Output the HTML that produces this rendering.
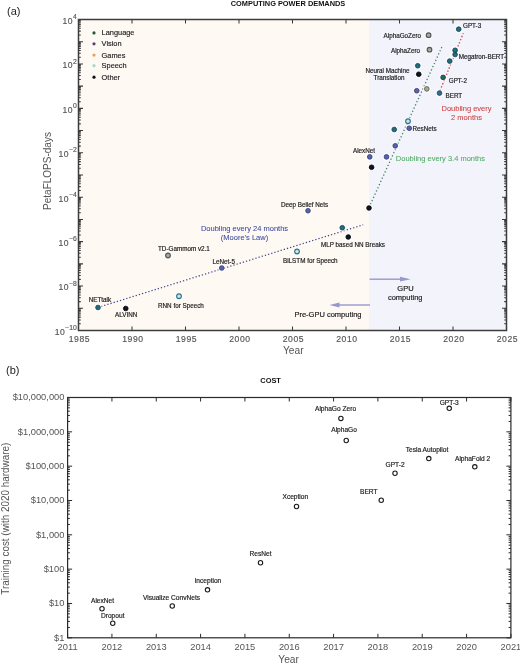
<!DOCTYPE html><html><head><meta charset="utf-8"><title>Computing power demands and cost</title>
<style>html,body{margin:0;padding:0;background:#fff;}svg{display:block;}text{font-family:"Liberation Sans", Arial, sans-serif;}</style></head><body>
<svg width="520" height="664" viewBox="0 0 520 664">
<text x="7" y="15" font-size="11" fill="#222">(a)</text>
<text x="288" y="6.2" font-size="7.4" font-weight="bold" fill="#111" text-anchor="middle">COMPUTING POWER DEMANDS</text>
<rect x="78.50" y="19.50" width="290.50" height="311.00" fill="#fff9f4"/>
<rect x="369.00" y="19.50" width="137.50" height="311.00" fill="#f3f3fc"/>
<path d="M78.50 330.50v-4M78.50 19.50v4M132.00 330.50v-4M132.00 19.50v4M185.50 330.50v-4M185.50 19.50v4M239.00 330.50v-4M239.00 19.50v4M292.50 330.50v-4M292.50 19.50v4M346.00 330.50v-4M346.00 19.50v4M399.50 330.50v-4M399.50 19.50v4M453.00 330.50v-4M453.00 19.50v4M506.50 330.50v-4M506.50 19.50v4M78.50 330.50h4.5M506.50 330.50h-4.5M78.50 323.81h2.3M506.50 323.81h-2.3M78.50 319.90h2.3M506.50 319.90h-2.3M78.50 317.13h2.3M506.50 317.13h-2.3M78.50 314.97h2.3M506.50 314.97h-2.3M78.50 313.21h2.3M506.50 313.21h-2.3M78.50 311.73h2.3M506.50 311.73h-2.3M78.50 310.44h2.3M506.50 310.44h-2.3M78.50 309.30h2.3M506.50 309.30h-2.3M78.50 308.29h4.5M506.50 308.29h-4.5M78.50 301.60h2.3M506.50 301.60h-2.3M78.50 297.69h2.3M506.50 297.69h-2.3M78.50 294.91h2.3M506.50 294.91h-2.3M78.50 292.76h2.3M506.50 292.76h-2.3M78.50 291.00h2.3M506.50 291.00h-2.3M78.50 289.51h2.3M506.50 289.51h-2.3M78.50 288.22h2.3M506.50 288.22h-2.3M78.50 287.09h2.3M506.50 287.09h-2.3M78.50 286.07h4.5M506.50 286.07h-4.5M78.50 279.38h2.3M506.50 279.38h-2.3M78.50 275.47h2.3M506.50 275.47h-2.3M78.50 272.70h2.3M506.50 272.70h-2.3M78.50 270.54h2.3M506.50 270.54h-2.3M78.50 268.79h2.3M506.50 268.79h-2.3M78.50 267.30h2.3M506.50 267.30h-2.3M78.50 266.01h2.3M506.50 266.01h-2.3M78.50 264.87h2.3M506.50 264.87h-2.3M78.50 263.86h4.5M506.50 263.86h-4.5M78.50 257.17h2.3M506.50 257.17h-2.3M78.50 253.26h2.3M506.50 253.26h-2.3M78.50 250.48h2.3M506.50 250.48h-2.3M78.50 248.33h2.3M506.50 248.33h-2.3M78.50 246.57h2.3M506.50 246.57h-2.3M78.50 245.08h2.3M506.50 245.08h-2.3M78.50 243.80h2.3M506.50 243.80h-2.3M78.50 242.66h2.3M506.50 242.66h-2.3M78.50 241.64h4.5M506.50 241.64h-4.5M78.50 234.96h2.3M506.50 234.96h-2.3M78.50 231.04h2.3M506.50 231.04h-2.3M78.50 228.27h2.3M506.50 228.27h-2.3M78.50 226.12h2.3M506.50 226.12h-2.3M78.50 224.36h2.3M506.50 224.36h-2.3M78.50 222.87h2.3M506.50 222.87h-2.3M78.50 221.58h2.3M506.50 221.58h-2.3M78.50 220.45h2.3M506.50 220.45h-2.3M78.50 219.43h4.5M506.50 219.43h-4.5M78.50 212.74h2.3M506.50 212.74h-2.3M78.50 208.83h2.3M506.50 208.83h-2.3M78.50 206.05h2.3M506.50 206.05h-2.3M78.50 203.90h2.3M506.50 203.90h-2.3M78.50 202.14h2.3M506.50 202.14h-2.3M78.50 200.66h2.3M506.50 200.66h-2.3M78.50 199.37h2.3M506.50 199.37h-2.3M78.50 198.23h2.3M506.50 198.23h-2.3M78.50 197.21h4.5M506.50 197.21h-4.5M78.50 190.53h2.3M506.50 190.53h-2.3M78.50 186.62h2.3M506.50 186.62h-2.3M78.50 183.84h2.3M506.50 183.84h-2.3M78.50 181.69h2.3M506.50 181.69h-2.3M78.50 179.93h2.3M506.50 179.93h-2.3M78.50 178.44h2.3M506.50 178.44h-2.3M78.50 177.15h2.3M506.50 177.15h-2.3M78.50 176.02h2.3M506.50 176.02h-2.3M78.50 175.00h4.5M506.50 175.00h-4.5M78.50 168.31h2.3M506.50 168.31h-2.3M78.50 164.40h2.3M506.50 164.40h-2.3M78.50 161.63h2.3M506.50 161.63h-2.3M78.50 159.47h2.3M506.50 159.47h-2.3M78.50 157.71h2.3M506.50 157.71h-2.3M78.50 156.23h2.3M506.50 156.23h-2.3M78.50 154.94h2.3M506.50 154.94h-2.3M78.50 153.80h2.3M506.50 153.80h-2.3M78.50 152.79h4.5M506.50 152.79h-4.5M78.50 146.10h2.3M506.50 146.10h-2.3M78.50 142.19h2.3M506.50 142.19h-2.3M78.50 139.41h2.3M506.50 139.41h-2.3M78.50 137.26h2.3M506.50 137.26h-2.3M78.50 135.50h2.3M506.50 135.50h-2.3M78.50 134.01h2.3M506.50 134.01h-2.3M78.50 132.72h2.3M506.50 132.72h-2.3M78.50 131.59h2.3M506.50 131.59h-2.3M78.50 130.57h4.5M506.50 130.57h-4.5M78.50 123.88h2.3M506.50 123.88h-2.3M78.50 119.97h2.3M506.50 119.97h-2.3M78.50 117.20h2.3M506.50 117.20h-2.3M78.50 115.04h2.3M506.50 115.04h-2.3M78.50 113.29h2.3M506.50 113.29h-2.3M78.50 111.80h2.3M506.50 111.80h-2.3M78.50 110.51h2.3M506.50 110.51h-2.3M78.50 109.37h2.3M506.50 109.37h-2.3M78.50 108.36h4.5M506.50 108.36h-4.5M78.50 101.67h2.3M506.50 101.67h-2.3M78.50 97.76h2.3M506.50 97.76h-2.3M78.50 94.98h2.3M506.50 94.98h-2.3M78.50 92.83h2.3M506.50 92.83h-2.3M78.50 91.07h2.3M506.50 91.07h-2.3M78.50 89.58h2.3M506.50 89.58h-2.3M78.50 88.30h2.3M506.50 88.30h-2.3M78.50 87.16h2.3M506.50 87.16h-2.3M78.50 86.14h4.5M506.50 86.14h-4.5M78.50 79.46h2.3M506.50 79.46h-2.3M78.50 75.54h2.3M506.50 75.54h-2.3M78.50 72.77h2.3M506.50 72.77h-2.3M78.50 70.62h2.3M506.50 70.62h-2.3M78.50 68.86h2.3M506.50 68.86h-2.3M78.50 67.37h2.3M506.50 67.37h-2.3M78.50 66.08h2.3M506.50 66.08h-2.3M78.50 64.95h2.3M506.50 64.95h-2.3M78.50 63.93h4.5M506.50 63.93h-4.5M78.50 57.24h2.3M506.50 57.24h-2.3M78.50 53.33h2.3M506.50 53.33h-2.3M78.50 50.55h2.3M506.50 50.55h-2.3M78.50 48.40h2.3M506.50 48.40h-2.3M78.50 46.64h2.3M506.50 46.64h-2.3M78.50 45.16h2.3M506.50 45.16h-2.3M78.50 43.87h2.3M506.50 43.87h-2.3M78.50 42.73h2.3M506.50 42.73h-2.3M78.50 41.71h4.5M506.50 41.71h-4.5M78.50 35.03h2.3M506.50 35.03h-2.3M78.50 31.12h2.3M506.50 31.12h-2.3M78.50 28.34h2.3M506.50 28.34h-2.3M78.50 26.19h2.3M506.50 26.19h-2.3M78.50 24.43h2.3M506.50 24.43h-2.3M78.50 22.94h2.3M506.50 22.94h-2.3M78.50 21.65h2.3M506.50 21.65h-2.3M78.50 20.52h2.3M506.50 20.52h-2.3M78.50 19.50h4.5M506.50 19.50h-4.5" stroke="#3a3a3a" stroke-width="1.05" fill="none"/>
<rect x="78.50" y="19.50" width="428.00" height="311.00" fill="none" stroke="#3c3c3c" stroke-width="1.5"/>
<text x="79.50" y="342" font-family='Liberation Mono, DejaVu Sans Mono, monospace' font-size="8.6" letter-spacing="0.6" fill="#555" stroke="#555" stroke-width="0.15" text-anchor="middle">1985</text>
<text x="133.00" y="342" font-family='Liberation Mono, DejaVu Sans Mono, monospace' font-size="8.6" letter-spacing="0.6" fill="#555" stroke="#555" stroke-width="0.15" text-anchor="middle">1990</text>
<text x="186.50" y="342" font-family='Liberation Mono, DejaVu Sans Mono, monospace' font-size="8.6" letter-spacing="0.6" fill="#555" stroke="#555" stroke-width="0.15" text-anchor="middle">1995</text>
<text x="240.00" y="342" font-family='Liberation Mono, DejaVu Sans Mono, monospace' font-size="8.6" letter-spacing="0.6" fill="#555" stroke="#555" stroke-width="0.15" text-anchor="middle">2000</text>
<text x="293.50" y="342" font-family='Liberation Mono, DejaVu Sans Mono, monospace' font-size="8.6" letter-spacing="0.6" fill="#555" stroke="#555" stroke-width="0.15" text-anchor="middle">2005</text>
<text x="347.00" y="342" font-family='Liberation Mono, DejaVu Sans Mono, monospace' font-size="8.6" letter-spacing="0.6" fill="#555" stroke="#555" stroke-width="0.15" text-anchor="middle">2010</text>
<text x="400.50" y="342" font-family='Liberation Mono, DejaVu Sans Mono, monospace' font-size="8.6" letter-spacing="0.6" fill="#555" stroke="#555" stroke-width="0.15" text-anchor="middle">2015</text>
<text x="454.00" y="342" font-family='Liberation Mono, DejaVu Sans Mono, monospace' font-size="8.6" letter-spacing="0.6" fill="#555" stroke="#555" stroke-width="0.15" text-anchor="middle">2020</text>
<text x="507.50" y="342" font-family='Liberation Mono, DejaVu Sans Mono, monospace' font-size="8.6" letter-spacing="0.6" fill="#555" stroke="#555" stroke-width="0.15" text-anchor="middle">2025</text>
<text x="76.9" y="23.80" font-family='Liberation Mono, DejaVu Sans Mono, monospace' fill="#555" stroke="#555" stroke-width="0.15" text-anchor="end"><tspan font-size="8.6" letter-spacing="0.5">10</tspan><tspan font-size="6.8" dx="0" dy="-4.6">4</tspan></text>
<text x="76.9" y="68.23" font-family='Liberation Mono, DejaVu Sans Mono, monospace' fill="#555" stroke="#555" stroke-width="0.15" text-anchor="end"><tspan font-size="8.6" letter-spacing="0.5">10</tspan><tspan font-size="6.8" dx="0" dy="-4.6">2</tspan></text>
<text x="76.9" y="112.66" font-family='Liberation Mono, DejaVu Sans Mono, monospace' fill="#555" stroke="#555" stroke-width="0.15" text-anchor="end"><tspan font-size="8.6" letter-spacing="0.5">10</tspan><tspan font-size="6.8" dx="0" dy="-4.6">0</tspan></text>
<text x="76.9" y="157.09" font-family='Liberation Mono, DejaVu Sans Mono, monospace' fill="#555" stroke="#555" stroke-width="0.15" text-anchor="end"><tspan font-size="8.6" letter-spacing="0.5">10</tspan><tspan font-size="6.8" dx="0" dy="-4.6">−2</tspan></text>
<text x="76.9" y="201.51" font-family='Liberation Mono, DejaVu Sans Mono, monospace' fill="#555" stroke="#555" stroke-width="0.15" text-anchor="end"><tspan font-size="8.6" letter-spacing="0.5">10</tspan><tspan font-size="6.8" dx="0" dy="-4.6">−4</tspan></text>
<text x="76.9" y="245.94" font-family='Liberation Mono, DejaVu Sans Mono, monospace' fill="#555" stroke="#555" stroke-width="0.15" text-anchor="end"><tspan font-size="8.6" letter-spacing="0.5">10</tspan><tspan font-size="6.8" dx="0" dy="-4.6">−6</tspan></text>
<text x="76.9" y="290.37" font-family='Liberation Mono, DejaVu Sans Mono, monospace' fill="#555" stroke="#555" stroke-width="0.15" text-anchor="end"><tspan font-size="8.6" letter-spacing="0.5">10</tspan><tspan font-size="6.8" dx="0" dy="-4.6">−8</tspan></text>
<text x="76.9" y="334.80" font-family='Liberation Mono, DejaVu Sans Mono, monospace' fill="#555" stroke="#555" stroke-width="0.15" text-anchor="end"><tspan font-size="8.6" letter-spacing="0.5">10</tspan><tspan font-size="6.8" dx="0" dy="-4.6">−10</tspan></text>
<text transform="translate(50.5 171) rotate(-90)" font-size="10" fill="#555" text-anchor="middle">PetaFLOPS-days</text>
<text x="293.3" y="354.3" font-size="10.2" fill="#555" text-anchor="middle">Year</text>
<circle cx="94" cy="32.90" r="1.6" fill="#1e5a3c"/>
<text x="101.6" y="35.30" font-size="7.4" fill="#222" stroke="#222" stroke-width="0.15">Language</text>
<circle cx="94" cy="43.80" r="1.6" fill="#54407e"/>
<text x="101.6" y="46.20" font-size="7.4" fill="#222" stroke="#222" stroke-width="0.15">Vision</text>
<circle cx="94" cy="55.10" r="1.6" fill="#e8a060"/>
<text x="101.6" y="57.50" font-size="7.4" fill="#222" stroke="#222" stroke-width="0.15">Games</text>
<circle cx="94" cy="65.70" r="1.6" fill="#a8d8cc"/>
<text x="101.6" y="68.10" font-size="7.4" fill="#222" stroke="#222" stroke-width="0.15">Speech</text>
<circle cx="94" cy="77.20" r="1.6" fill="#111"/>
<text x="101.6" y="79.60" font-size="7.4" fill="#222" stroke="#222" stroke-width="0.15">Other</text>
<path d="M101.00 306.50L363.20 224.80" stroke="#3c4788" stroke-width="1.2" stroke-dasharray="1.3 2" fill="none"/>
<path d="M369.00 207.50L442.80 44.90" stroke="#4a8262" stroke-width="1.3" stroke-dasharray="1.3 2.2" fill="none"/>
<path d="M440.00 90.70L463.30 33.20" stroke="#d04444" stroke-width="1.3" stroke-dasharray="1.4 2" fill="none"/>
<circle cx="98.00" cy="307.50" r="4" fill="#fff" fill-opacity="0.55"/>
<circle cx="125.75" cy="308.50" r="4" fill="#fff" fill-opacity="0.55"/>
<circle cx="179.00" cy="296.25" r="4" fill="#fff" fill-opacity="0.55"/>
<circle cx="168.00" cy="255.50" r="4" fill="#fff" fill-opacity="0.55"/>
<circle cx="221.75" cy="268.00" r="4" fill="#fff" fill-opacity="0.55"/>
<circle cx="297.00" cy="251.50" r="4" fill="#fff" fill-opacity="0.55"/>
<circle cx="308.00" cy="210.75" r="4" fill="#fff" fill-opacity="0.55"/>
<circle cx="342.25" cy="227.75" r="4" fill="#fff" fill-opacity="0.55"/>
<circle cx="348.25" cy="237.00" r="4" fill="#fff" fill-opacity="0.55"/>
<circle cx="369.00" cy="208.00" r="4" fill="#fff" fill-opacity="0.55"/>
<circle cx="369.75" cy="156.90" r="4" fill="#fff" fill-opacity="0.55"/>
<circle cx="371.60" cy="167.25" r="4" fill="#fff" fill-opacity="0.55"/>
<circle cx="386.50" cy="156.90" r="4" fill="#fff" fill-opacity="0.55"/>
<circle cx="395.25" cy="145.80" r="4" fill="#fff" fill-opacity="0.55"/>
<circle cx="394.25" cy="129.50" r="4" fill="#fff" fill-opacity="0.55"/>
<circle cx="408.00" cy="121.25" r="4" fill="#fff" fill-opacity="0.55"/>
<circle cx="409.25" cy="128.25" r="4" fill="#fff" fill-opacity="0.55"/>
<circle cx="417.75" cy="65.75" r="4" fill="#fff" fill-opacity="0.55"/>
<circle cx="418.75" cy="74.25" r="4" fill="#fff" fill-opacity="0.55"/>
<circle cx="416.75" cy="90.75" r="4" fill="#fff" fill-opacity="0.55"/>
<circle cx="426.80" cy="88.90" r="4" fill="#fff" fill-opacity="0.55"/>
<circle cx="439.50" cy="93.10" r="4" fill="#fff" fill-opacity="0.55"/>
<circle cx="443.10" cy="77.40" r="4" fill="#fff" fill-opacity="0.55"/>
<circle cx="449.70" cy="61.10" r="4" fill="#fff" fill-opacity="0.55"/>
<circle cx="455.10" cy="54.50" r="4" fill="#fff" fill-opacity="0.55"/>
<circle cx="455.10" cy="50.30" r="4" fill="#fff" fill-opacity="0.55"/>
<circle cx="458.70" cy="29.20" r="4" fill="#fff" fill-opacity="0.55"/>
<circle cx="428.60" cy="35.20" r="4" fill="#fff" fill-opacity="0.55"/>
<circle cx="429.50" cy="49.70" r="4" fill="#fff" fill-opacity="0.55"/>
<circle cx="98.00" cy="307.50" r="2.35" fill="#1f6e7c" stroke="#0f3f4a" stroke-width="0.8"/>
<circle cx="125.75" cy="308.50" r="2.35" fill="#0c1428" stroke="#000" stroke-width="0.8"/>
<circle cx="179.00" cy="296.25" r="2.35" fill="#c4e6f0" stroke="#2f7282" stroke-width="1.1"/>
<circle cx="168.00" cy="255.50" r="2.35" fill="#a4aaa4" stroke="#4e5654" stroke-width="1.1"/>
<circle cx="221.75" cy="268.00" r="2.35" fill="#5563a8" stroke="#2e3a78" stroke-width="0.8"/>
<circle cx="297.00" cy="251.50" r="2.35" fill="#c4e6f0" stroke="#2f7282" stroke-width="1.1"/>
<circle cx="308.00" cy="210.75" r="2.35" fill="#5563a8" stroke="#2e3a78" stroke-width="0.8"/>
<circle cx="342.25" cy="227.75" r="2.35" fill="#1f6e7c" stroke="#0f3f4a" stroke-width="0.8"/>
<circle cx="348.25" cy="237.00" r="2.35" fill="#0c1428" stroke="#000" stroke-width="0.8"/>
<circle cx="369.00" cy="208.00" r="2.35" fill="#0c1428" stroke="#000" stroke-width="0.8"/>
<circle cx="369.75" cy="156.90" r="2.35" fill="#5563a8" stroke="#2e3a78" stroke-width="0.8"/>
<circle cx="371.60" cy="167.25" r="2.35" fill="#0c1428" stroke="#000" stroke-width="0.8"/>
<circle cx="386.50" cy="156.90" r="2.35" fill="#5563a8" stroke="#2e3a78" stroke-width="0.8"/>
<circle cx="395.25" cy="145.80" r="2.35" fill="#5563a8" stroke="#2e3a78" stroke-width="0.8"/>
<circle cx="394.25" cy="129.50" r="2.35" fill="#1f6e7c" stroke="#0f3f4a" stroke-width="0.8"/>
<circle cx="408.00" cy="121.25" r="2.35" fill="#c4e6f0" stroke="#2f7282" stroke-width="1.1"/>
<circle cx="409.25" cy="128.25" r="2.35" fill="#5563a8" stroke="#2e3a78" stroke-width="0.8"/>
<circle cx="417.75" cy="65.75" r="2.35" fill="#1f6e7c" stroke="#0f3f4a" stroke-width="0.8"/>
<circle cx="418.75" cy="74.25" r="2.35" fill="#0c1428" stroke="#000" stroke-width="0.8"/>
<circle cx="416.75" cy="90.75" r="2.35" fill="#62609e" stroke="#363470" stroke-width="0.8"/>
<circle cx="426.80" cy="88.90" r="2.35" fill="#a8a890" stroke="#4f5a50" stroke-width="0.8"/>
<circle cx="439.50" cy="93.10" r="2.35" fill="#2d6f8c" stroke="#0f3f55" stroke-width="0.8"/>
<circle cx="443.10" cy="77.40" r="2.35" fill="#1f6a60" stroke="#0d3f38" stroke-width="0.8"/>
<circle cx="449.70" cy="61.10" r="2.35" fill="#1f6e7c" stroke="#0f3f4a" stroke-width="0.8"/>
<circle cx="455.10" cy="54.50" r="2.35" fill="#1f6e7c" stroke="#0f3f4a" stroke-width="0.8"/>
<circle cx="455.10" cy="50.30" r="2.35" fill="#1f6e7c" stroke="#0f3f4a" stroke-width="0.8"/>
<circle cx="458.70" cy="29.20" r="2.35" fill="#1f6e7c" stroke="#0f3f4a" stroke-width="0.8"/>
<circle cx="428.60" cy="35.20" r="2.35" fill="#a4aaa4" stroke="#4e5654" stroke-width="1.1"/>
<circle cx="429.50" cy="49.70" r="2.35" fill="#a4aaa4" stroke="#4e5654" stroke-width="1.1"/>
<text x="88.75" y="302.00" font-size="6.3" fill="#222" stroke="#222" stroke-width="0.18" text-anchor="start">NETtalk</text>
<text x="115.00" y="317.30" font-size="6.3" fill="#222" stroke="#222" stroke-width="0.18" text-anchor="start">ALVINN</text>
<text x="158.00" y="308.00" font-size="6.3" fill="#222" stroke="#222" stroke-width="0.18" text-anchor="start">RNN for Speech</text>
<text x="158.00" y="250.50" font-size="6.3" fill="#222" stroke="#222" stroke-width="0.18" text-anchor="start">TD-Gammom v2.1</text>
<text x="212.50" y="264.00" font-size="6.3" fill="#222" stroke="#222" stroke-width="0.18" text-anchor="start">LeNet-5</text>
<text x="283.00" y="263.00" font-size="6.3" fill="#222" stroke="#222" stroke-width="0.18" text-anchor="start">BiLSTM for Speech</text>
<text x="281.00" y="207.00" font-size="6.3" fill="#222" stroke="#222" stroke-width="0.18" text-anchor="start">Deep Belief Nets</text>
<text x="321.00" y="247.00" font-size="6.3" fill="#222" stroke="#222" stroke-width="0.18" text-anchor="start">MLP based NN Breaks</text>
<text x="353.00" y="153.00" font-size="6.3" fill="#222" stroke="#222" stroke-width="0.18" text-anchor="start">AlexNet</text>
<text x="412.50" y="131.00" font-size="6.3" fill="#222" stroke="#222" stroke-width="0.18" text-anchor="start">ResNets</text>
<text x="445.50" y="97.50" font-size="6.3" fill="#222" stroke="#222" stroke-width="0.18" text-anchor="start">BERT</text>
<text x="448.75" y="82.50" font-size="6.3" fill="#222" stroke="#222" stroke-width="0.18" text-anchor="start">GPT-2</text>
<text x="458.75" y="59.30" font-size="6.3" fill="#222" stroke="#222" stroke-width="0.18" text-anchor="start">Megatron-BERT</text>
<text x="463.00" y="28.00" font-size="6.3" fill="#222" stroke="#222" stroke-width="0.18" text-anchor="start">GPT-3</text>
<text x="421.00" y="38.00" font-size="6.3" fill="#222" stroke="#222" stroke-width="0.18" text-anchor="end">AlphaGoZero</text>
<text x="420.00" y="52.50" font-size="6.3" fill="#222" stroke="#222" stroke-width="0.18" text-anchor="end">AlphaZero</text>
<text x="409.50" y="72.50" font-size="6.3" fill="#222" stroke="#222" stroke-width="0.18" text-anchor="end">Neural Machine</text>
<text x="404.50" y="80.00" font-size="6.3" fill="#222" stroke="#222" stroke-width="0.18" text-anchor="end">Translation</text>
<text x="244.50" y="231.00" font-size="7.5" fill="#3a4aa0" stroke="#3a4aa0" stroke-width="0.06" text-anchor="middle">Doubling every 24 months</text>
<text x="244.50" y="239.60" font-size="7.5" fill="#3a4aa0" stroke="#3a4aa0" stroke-width="0.06" text-anchor="middle">(Moore’s Law)</text>
<text x="395.80" y="160.90" font-size="7.5" fill="#50aa62" stroke="#50aa62" stroke-width="0.06" text-anchor="start">Doubling every 3.4 months</text>
<text x="466.50" y="110.50" font-size="7.5" fill="#cc4040" stroke="#cc4040" stroke-width="0.06" text-anchor="middle">Doubling every</text>
<text x="466.50" y="120.00" font-size="7.5" fill="#cc4040" stroke="#cc4040" stroke-width="0.06" text-anchor="middle">2 months</text>
<text x="405.50" y="291.30" font-size="7.5" fill="#222" stroke="#222" stroke-width="0.18" text-anchor="middle">GPU</text>
<text x="405.20" y="299.50" font-size="7.5" fill="#222" stroke="#222" stroke-width="0.18" text-anchor="middle">computing</text>
<text x="328.00" y="316.50" font-size="7.5" fill="#222" stroke="#222" stroke-width="0.18" text-anchor="middle">Pre-GPU computing</text>
<path d="M369.5 279.2H401" stroke="#9898cc" stroke-width="1.4"/><path d="M400 276.8L410.6 279.2L400 281.6Z" fill="#9898cc"/>
<path d="M370 305H338" stroke="#9898cc" stroke-width="1.4"/><path d="M339.5 302.6L329.5 305L339.5 307.4Z" fill="#9898cc"/>
<text x="6" y="374" font-size="11" fill="#222">(b)</text>
<text x="270.6" y="383.2" font-size="7.4" font-weight="bold" fill="#111" text-anchor="middle">COST</text>
<path d="M67.60 637.80v-4M67.60 397.50v4M111.93 637.80v-4M111.93 397.50v4M156.26 637.80v-4M156.26 397.50v4M200.59 637.80v-4M200.59 397.50v4M244.92 637.80v-4M244.92 397.50v4M289.25 637.80v-4M289.25 397.50v4M333.58 637.80v-4M333.58 397.50v4M377.91 637.80v-4M377.91 397.50v4M422.24 637.80v-4M422.24 397.50v4M466.57 637.80v-4M466.57 397.50v4M510.90 637.80v-4M510.90 397.50v4M67.60 637.80h4.5M510.90 637.80h-4.5M67.60 627.47h2.3M510.90 627.47h-2.3M67.60 621.42h2.3M510.90 621.42h-2.3M67.60 617.13h2.3M510.90 617.13h-2.3M67.60 613.81h2.3M510.90 613.81h-2.3M67.60 611.09h2.3M510.90 611.09h-2.3M67.60 608.79h2.3M510.90 608.79h-2.3M67.60 606.80h2.3M510.90 606.80h-2.3M67.60 605.04h2.3M510.90 605.04h-2.3M67.60 603.47h4.5M510.90 603.47h-4.5M67.60 593.14h2.3M510.90 593.14h-2.3M67.60 587.09h2.3M510.90 587.09h-2.3M67.60 582.80h2.3M510.90 582.80h-2.3M67.60 579.48h2.3M510.90 579.48h-2.3M67.60 576.76h2.3M510.90 576.76h-2.3M67.60 574.46h2.3M510.90 574.46h-2.3M67.60 572.47h2.3M510.90 572.47h-2.3M67.60 570.71h2.3M510.90 570.71h-2.3M67.60 569.14h4.5M510.90 569.14h-4.5M67.60 558.81h2.3M510.90 558.81h-2.3M67.60 552.76h2.3M510.90 552.76h-2.3M67.60 548.47h2.3M510.90 548.47h-2.3M67.60 545.15h2.3M510.90 545.15h-2.3M67.60 542.43h2.3M510.90 542.43h-2.3M67.60 540.13h2.3M510.90 540.13h-2.3M67.60 538.14h2.3M510.90 538.14h-2.3M67.60 536.39h2.3M510.90 536.39h-2.3M67.60 534.81h4.5M510.90 534.81h-4.5M67.60 524.48h2.3M510.90 524.48h-2.3M67.60 518.44h2.3M510.90 518.44h-2.3M67.60 514.15h2.3M510.90 514.15h-2.3M67.60 510.82h2.3M510.90 510.82h-2.3M67.60 508.10h2.3M510.90 508.10h-2.3M67.60 505.80h2.3M510.90 505.80h-2.3M67.60 503.81h2.3M510.90 503.81h-2.3M67.60 502.06h2.3M510.90 502.06h-2.3M67.60 500.49h4.5M510.90 500.49h-4.5M67.60 490.15h2.3M510.90 490.15h-2.3M67.60 484.11h2.3M510.90 484.11h-2.3M67.60 479.82h2.3M510.90 479.82h-2.3M67.60 476.49h2.3M510.90 476.49h-2.3M67.60 473.77h2.3M510.90 473.77h-2.3M67.60 471.47h2.3M510.90 471.47h-2.3M67.60 469.48h2.3M510.90 469.48h-2.3M67.60 467.73h2.3M510.90 467.73h-2.3M67.60 466.16h4.5M510.90 466.16h-4.5M67.60 455.82h2.3M510.90 455.82h-2.3M67.60 449.78h2.3M510.90 449.78h-2.3M67.60 445.49h2.3M510.90 445.49h-2.3M67.60 442.16h2.3M510.90 442.16h-2.3M67.60 439.44h2.3M510.90 439.44h-2.3M67.60 437.15h2.3M510.90 437.15h-2.3M67.60 435.16h2.3M510.90 435.16h-2.3M67.60 433.40h2.3M510.90 433.40h-2.3M67.60 431.83h4.5M510.90 431.83h-4.5M67.60 421.49h2.3M510.90 421.49h-2.3M67.60 415.45h2.3M510.90 415.45h-2.3M67.60 411.16h2.3M510.90 411.16h-2.3M67.60 407.83h2.3M510.90 407.83h-2.3M67.60 405.12h2.3M510.90 405.12h-2.3M67.60 402.82h2.3M510.90 402.82h-2.3M67.60 400.83h2.3M510.90 400.83h-2.3M67.60 399.07h2.3M510.90 399.07h-2.3M67.60 397.50h4.5M510.90 397.50h-4.5" stroke="#2a2a2a" stroke-width="1" fill="none"/>
<rect x="67.60" y="397.50" width="443.30" height="240.30" fill="none" stroke="#2a2a2a" stroke-width="1.2"/>
<text x="64.4" y="640.60" font-size="9.3" fill="#555" text-anchor="end">$1</text>
<text x="64.4" y="606.27" font-size="9.3" fill="#555" text-anchor="end">$10</text>
<text x="64.4" y="571.94" font-size="9.3" fill="#555" text-anchor="end">$100</text>
<text x="64.4" y="537.61" font-size="9.3" fill="#555" text-anchor="end">$1,000</text>
<text x="64.4" y="503.29" font-size="9.3" fill="#555" text-anchor="end">$10,000</text>
<text x="64.4" y="468.96" font-size="9.3" fill="#555" text-anchor="end">$100,000</text>
<text x="64.4" y="434.63" font-size="9.3" fill="#555" text-anchor="end">$1,000,000</text>
<text x="64.4" y="400.30" font-size="9.3" fill="#555" text-anchor="end">$10,000,000</text>
<text x="67.60" y="650" font-size="9.3" fill="#555" text-anchor="middle">2011</text>
<text x="111.93" y="650" font-size="9.3" fill="#555" text-anchor="middle">2012</text>
<text x="156.26" y="650" font-size="9.3" fill="#555" text-anchor="middle">2013</text>
<text x="200.59" y="650" font-size="9.3" fill="#555" text-anchor="middle">2014</text>
<text x="244.92" y="650" font-size="9.3" fill="#555" text-anchor="middle">2015</text>
<text x="289.25" y="650" font-size="9.3" fill="#555" text-anchor="middle">2016</text>
<text x="333.58" y="650" font-size="9.3" fill="#555" text-anchor="middle">2017</text>
<text x="377.91" y="650" font-size="9.3" fill="#555" text-anchor="middle">2018</text>
<text x="422.24" y="650" font-size="9.3" fill="#555" text-anchor="middle">2019</text>
<text x="466.57" y="650" font-size="9.3" fill="#555" text-anchor="middle">2020</text>
<text x="510.90" y="650" font-size="9.3" fill="#555" text-anchor="middle">2021</text>
<text transform="translate(9.2 518.7) rotate(-90)" font-size="10.5" fill="#555" text-anchor="middle" textLength="152" lengthAdjust="spacingAndGlyphs">Training cost (with 2020 hardware)</text>
<text x="288.6" y="662.5" font-size="10.2" fill="#555" text-anchor="middle">Year</text>
<circle cx="102.00" cy="608.75" r="2.2" fill="#fff" stroke="#1a1a1a" stroke-width="1.1"/>
<circle cx="112.75" cy="623.25" r="2.2" fill="#fff" stroke="#1a1a1a" stroke-width="1.1"/>
<circle cx="172.25" cy="606.00" r="2.2" fill="#fff" stroke="#1a1a1a" stroke-width="1.1"/>
<circle cx="207.50" cy="589.80" r="2.2" fill="#fff" stroke="#1a1a1a" stroke-width="1.1"/>
<circle cx="260.50" cy="562.75" r="2.2" fill="#fff" stroke="#1a1a1a" stroke-width="1.1"/>
<circle cx="296.50" cy="506.50" r="2.2" fill="#fff" stroke="#1a1a1a" stroke-width="1.1"/>
<circle cx="340.90" cy="418.40" r="2.2" fill="#fff" stroke="#1a1a1a" stroke-width="1.1"/>
<circle cx="346.25" cy="440.50" r="2.2" fill="#fff" stroke="#1a1a1a" stroke-width="1.1"/>
<circle cx="381.25" cy="500.25" r="2.2" fill="#fff" stroke="#1a1a1a" stroke-width="1.1"/>
<circle cx="395.00" cy="473.25" r="2.2" fill="#fff" stroke="#1a1a1a" stroke-width="1.1"/>
<circle cx="428.80" cy="458.60" r="2.2" fill="#fff" stroke="#1a1a1a" stroke-width="1.1"/>
<circle cx="449.25" cy="408.30" r="2.2" fill="#fff" stroke="#1a1a1a" stroke-width="1.1"/>
<circle cx="474.80" cy="466.80" r="2.2" fill="#fff" stroke="#1a1a1a" stroke-width="1.1"/>
<text x="91.00" y="603.20" font-size="6.6" fill="#222" stroke="#222" stroke-width="0.18" text-anchor="start">AlexNet</text>
<text x="101.00" y="617.70" font-size="6.6" fill="#222" stroke="#222" stroke-width="0.18" text-anchor="start">Dropout</text>
<text x="143.00" y="600.30" font-size="6.6" fill="#222" stroke="#222" stroke-width="0.18" text-anchor="start">Visualize ConvNets</text>
<text x="194.50" y="583.00" font-size="6.6" fill="#222" stroke="#222" stroke-width="0.18" text-anchor="start">Inception</text>
<text x="249.50" y="555.70" font-size="6.6" fill="#222" stroke="#222" stroke-width="0.18" text-anchor="start">ResNet</text>
<text x="282.50" y="498.50" font-size="6.6" fill="#222" stroke="#222" stroke-width="0.18" text-anchor="start">Xception</text>
<text x="315.00" y="411.00" font-size="6.6" fill="#222" stroke="#222" stroke-width="0.18" text-anchor="start">AlphaGo Zero</text>
<text x="331.25" y="431.80" font-size="6.6" fill="#222" stroke="#222" stroke-width="0.18" text-anchor="start">AlphaGo</text>
<text x="360.00" y="494.20" font-size="6.6" fill="#222" stroke="#222" stroke-width="0.18" text-anchor="start">BERT</text>
<text x="385.50" y="466.70" font-size="6.6" fill="#222" stroke="#222" stroke-width="0.18" text-anchor="start">GPT-2</text>
<text x="405.75" y="452.30" font-size="6.6" fill="#222" stroke="#222" stroke-width="0.18" text-anchor="start">Tesla Autopilot</text>
<text x="439.70" y="405.00" font-size="6.6" fill="#222" stroke="#222" stroke-width="0.18" text-anchor="start">GPT-3</text>
<text x="455.00" y="461.20" font-size="6.6" fill="#222" stroke="#222" stroke-width="0.18" text-anchor="start">AlphaFold 2</text>
</svg></body></html>
